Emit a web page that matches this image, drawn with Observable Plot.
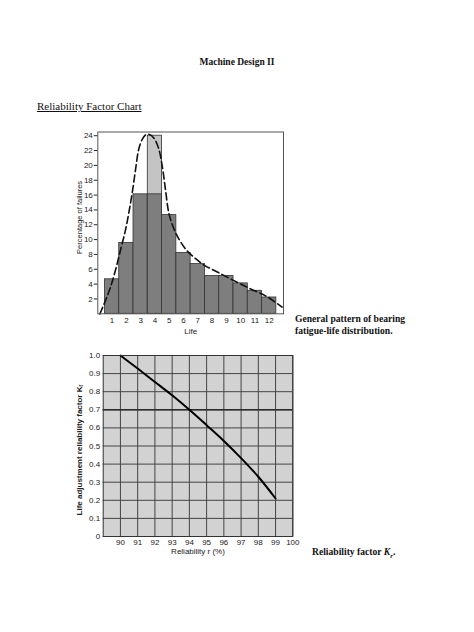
<!DOCTYPE html>
<html><head><meta charset="utf-8">
<script src="https://cdn.jsdelivr.net/npm/d3@7"></script>
<script src="https://cdn.jsdelivr.net/npm/@observablehq/plot@0.6"></script>
<style>
html,body{margin:0;padding:0;background:#fff;}
#page{position:relative;width:474px;height:632px;overflow:hidden;font-family:"Liberation Serif","Times New Roman",serif;color:#111;}
.abs{position:absolute;}
#title{left:0;width:474px;top:57px;text-align:center;font-weight:bold;font-size:9.5px;}
#sub{left:37px;top:100px;font-size:11px;text-decoration:underline;}
.cap{font-weight:bold;font-size:9.6px;line-height:11.5px;font-family:"Liberation Serif",serif;}
</style></head><body>
<div id="page">
  <div id="title" class="abs">Machine Design II</div>
  <div id="sub" class="abs">Reliability Factor Chart</div>
  <div id="top" class="abs" style="left:0;top:120px"></div>
  <div class="abs cap" style="left:295px;top:313px">General pattern of bearing<br>fatigue-life distribution.</div>
  <div id="bot" class="abs" style="left:0;top:340px"></div>
  <div class="abs cap" style="left:312px;top:546px">Reliability factor <i>K<sub style="font-size:7px">r</sub></i>.</div>
</div>
<script>
// ---- Fatigue-life distribution (top chart) ----
const lifeBins = [1, 2, 3, 4, 5, 6, 7, 8, 9, 10, 11, 12];
const failurePct = [4.65, 9.55, 16.1, 24.0, 13.3, 8.2, 6.7, 5.1, 5.1, 4.1, 3.1, 2.2];
const peakBinDenseTo = 16.1;
const curveLife = [0.15, 0.54, 0.89, 1.24, 1.59, 1.94, 2.17, 2.41, 2.64, 2.87, 3.11, 3.34, 3.57, 3.92, 4.27, 4.51, 4.74, 4.97, 5.3, 5.7, 6.2, 6.8, 7.5, 8.4, 9.5, 10.7, 11.85, 12.9];
const curvePct = [0, 1.8, 3.6, 5.9, 8.6, 11.3, 13.6, 16.3, 19.4, 22.2, 23.5, 24.1, 24.2, 23.7, 22.2, 19.9, 16.7, 13.6, 11.6, 10.0, 8.6, 7.5, 6.5, 5.6, 4.5, 3.35, 2.3, 0.9];
const pctTicks = [2, 4, 6, 8, 10, 12, 14, 16, 18, 20, 22, 24];
const lifeTicks = [1, 2, 3, 4, 5, 6, 7, 8, 9, 10, 11, 12];

// ---- Reliability factor (bottom chart) ----
const reliability = [90, 91, 92, 93, 94, 95, 96, 97, 98, 99];
const krValues = [1.0, 0.928, 0.854, 0.78, 0.70, 0.615, 0.528, 0.433, 0.33, 0.21];
const relTicks = [90, 91, 92, 93, 94, 95, 96, 97, 98, 99, 100];
const krTicks = [0, 0.1, 0.2, 0.3, 0.4, 0.5, 0.6, 0.7, 0.8, 0.9, 1.0];
const krEmphasis = [0.7];

const bins = lifeBins.map((l, i) => ({life: l, pct: failurePct[i]}));
const curve = curveLife.map((x, i) => ({x, y: curvePct[i]}));
const krData = reliability.map((r, i) => ({r, k: krValues[i]}));

const axisStyle = {fontFamily: "'Liberation Sans', Arial, sans-serif", fontSize: "8px", color: "#222", background: "transparent", overflow: "visible"};

const topChart = Plot.plot({
  width: 300, height: 230,
  marginLeft: 97.3, marginRight: 17, marginTop: 11.5, marginBottom: 36.7,
  style: axisStyle,
  x: {domain: [0, 13]},
  y: {domain: [0, 24.5]},
  marks: [
    Plot.rect(bins, {x1: d => d.life - 0.5, x2: d => d.life + 0.5, y1: 0, y2: "pct",
      fill: d => d.pct > peakBinDenseTo ? "#c4c4c4" : "#7e7e7e", stroke: "#333", strokeWidth: 0.8}),
    Plot.rect(bins.filter(d => d.pct > peakBinDenseTo), {x1: d => d.life - 0.5, x2: d => d.life + 0.5, y1: 0, y2: peakBinDenseTo,
      fill: "#7e7e7e", stroke: "#333", strokeWidth: 0.8}),
    Plot.line(curve, {x: "x", y: "y", curve: "catmull-rom", stroke: "#111", strokeWidth: 1.6, strokeDasharray: "7,3.5"}),
    Plot.frame({stroke: "#555"}),
    Plot.axisY(pctTicks, {tickSize: 3.5, tickPadding: 1.5, label: null}),
    Plot.text(["Percentage of failures"], {frameAnchor: "left", textAnchor: "middle", rotate: -90, dx: -18, dy: -5.5, fontSize: 7.5}),
    Plot.axisX(lifeTicks, {tickSize: 0, tickPadding: 4, label: "Life", labelAnchor: "center", labelArrow: "none", labelOffset: 20})
  ]
});
document.getElementById("top").appendChild(topChart);

const botChart = Plot.plot({
  width: 310, height: 230,
  marginLeft: 102.7, marginRight: 17.7, marginTop: 15, marginBottom: 34,
  style: axisStyle,
  x: {domain: [89, 100]},
  y: {domain: [0, 1]},
  marks: [
    Plot.frame({fill: "#d2d2d2"}),
    Plot.gridX(relTicks, {stroke: "#444", strokeOpacity: 1, strokeWidth: 1}),
    Plot.gridY(krTicks, {stroke: "#444", strokeOpacity: 1, strokeWidth: 1}),
    Plot.ruleY(krEmphasis, {stroke: "#2a2a2a", strokeWidth: 1.6}),
    Plot.line(krData, {x: "r", y: "k", curve: "catmull-rom", stroke: "#000", strokeWidth: 2}),
    Plot.frame({stroke: "#333"}),
    Plot.axisY(krTicks, {tickSize: 0, tickPadding: 3, tickFormat: d => d === 0 ? "0" : d.toFixed(1), label: null}),
    Plot.axisX(relTicks, {tickSize: 0, tickPadding: 3, label: "Reliability r (%)", labelAnchor: "center", labelArrow: "none", labelOffset: 17}),
    Plot.text(["Life adjustment reliability factor Kᵣ"], {frameAnchor: "left", textAnchor: "middle", rotate: -90, dx: -24, dy: 4, fontWeight: "bold", fontSize: 8})
  ]
});
document.getElementById("bot").appendChild(botChart);
</script>
</body></html>
